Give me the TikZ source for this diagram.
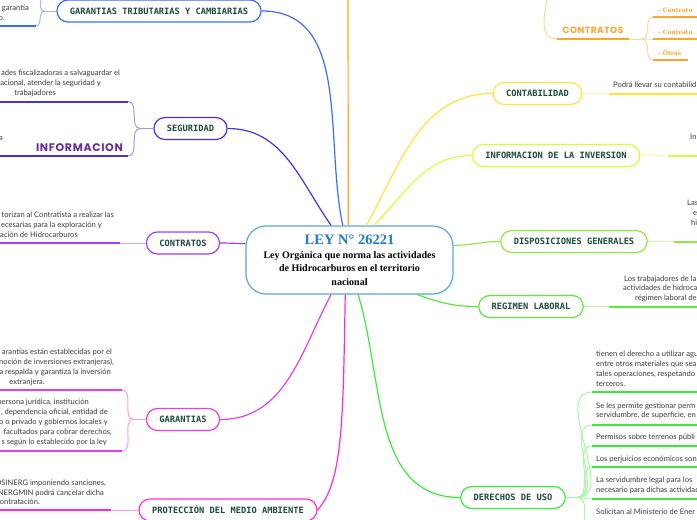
\documentclass[tikz,border=0pt]{standalone}
\usepackage{fontspec}
\usepackage{tikz}
\usetikzlibrary{positioning}
\newfontfamily\notefont{Lato}
\newfontfamily\monofont{DejaVu Sans Mono}
\newfontfamily\heavyfont[LetterSpace=6]{Poppins}
\newfontfamily\titlefont{Liberation Serif}
\newfontfamily\slabfont{DejaVu Serif}
\definecolor{leyBlue}{HTML}{5AA6DC}
\definecolor{titleBlue}{HTML}{1F7DC0}
\definecolor{topicText}{HTML}{1C4A3C}
\definecolor{noteGray}{HTML}{3A3A3A}
\definecolor{tribBlue}{HTML}{3D6BFF}
\definecolor{segViolet}{HTML}{4A2DEB}
\definecolor{contPurple}{HTML}{A23DFF}
\definecolor{garPink}{HTML}{E93DEC}
\definecolor{protPink}{HTML}{FF2ADB}
\definecolor{contaYellow}{HTML}{FFE43A}
\definecolor{invLime}{HTML}{D6FF3A}
\definecolor{dispGreen}{HTML}{8CEB3E}
\definecolor{regGreen}{HTML}{5AEB36}
\definecolor{derGreen}{HTML}{36EE36}
\definecolor{ordOrange}{HTML}{FFA52A}
\definecolor{infoPurple}{HTML}{6B2D93}

\begin{document}
\begin{tikzpicture}[x=1pt, y=1pt,
    topic/.style={draw=#1, line width=1.2pt, fill=white, rounded corners=11pt, minimum height=22pt,
        inner xsep=13pt, inner ysep=0pt, text=topicText, font=\monofont\bfseries\fontsize{8.7}{10}\selectfont},
    note/.style={inner sep=0pt, text=noteGray, font=\notefont\fontsize{7.6}{10}\selectfont},
    heavy/.style={inner sep=0pt, font=\heavyfont\bfseries\fontsize{#1}{12}\selectfont},
    stem/.style={line width=1.2pt},
    twig/.style={line width=1pt},
    bar/.style={line width=2pt}]
    \useasboundingbox (0,0) rectangle (697,-520);
    \clip (0,0) rectangle (697,-520);

    \node[draw=leyBlue, line width=1.2pt, fill=white, rounded corners=20pt, minimum width=207pt, minimum height=68pt,
        align=center, inner sep=0pt, font=\titlefont\bfseries\fontsize{10}{13.5}\selectfont] (ley) at (349.5,-260)
        {{\fontsize{14.5}{13.5}\selectfont\color{titleBlue}LEY N° 26221}\\[0.5pt]
         Ley Orgánica que norma las actividades\\ de Hidrocarburos en el territorio\\ nacional};

    \node[topic=tribBlue] (trib) at (159,-11) {GARANTIAS TRIBUTARIAS Y CAMBIARIAS};
    \node[topic=segViolet] (seg) at (190.5,-128.5) {SEGURIDAD};
    \node[topic=contPurple] (cont) at (183,-243) {CONTRATOS};
    \node[topic=garPink] (gar) at (183,-419.5) {GARANTIAS};
    \node[topic=protPink] (prot) at (228,-510) {PROTECCIÓN DEL MEDIO AMBIENTE};
    \node[topic=contaYellow] (conta) at (537.5,-93.5) {CONTABILIDAD};
    \node[topic=invLime] (inv) at (556,-155.5) {INFORMACION DE LA INVERSION};
    \node[topic=dispGreen] (disp) at (574,-241.5) {DISPOSICIONES GENERALES};
    \node[topic=regGreen] (reg) at (531,-306.5) {REGIMEN LABORAL};
    \node[topic=derGreen] (der) at (513,-497.5) {DERECHOS DE USO};
    \coordinate (ordTop) at (348,20);

    \draw[stem, tribBlue] (ley.101) to[out=102, in=0] (trib.east);
    \draw[stem, segViolet] (ley.118) to[out=125, in=0] (seg.east);
    \draw[stem, ordOrange] (ley.92) -- (ordTop);
    \draw[stem, contPurple] (ley.171) to[out=180, in=0] (cont.east);
    \draw[stem, garPink] (ley.-118) to[out=-118, in=0] (gar.east);
    \draw[stem, protPink] (ley.-97) .. controls (343,-420) and (343,-482) .. (prot.east);
    \draw[stem, contaYellow] (ley.64) to[out=61, in=180] (conta.west);
    \draw[stem, invLime] (ley.55) to[out=45, in=180] (inv.west);
    \draw[stem, dispGreen] (ley.8) to[out=0, in=180] (disp.west);
    \draw[stem, regGreen] (ley.-27) to[out=-20, in=180] (reg.west);
    \draw[stem, derGreen] (ley.-76) to[out=-73, in=180] (der.west);

    % garantias tributarias
    \coordinate (tribUp) at (38,15);
    \coordinate (tribA) at (36,-26);
    \draw[twig, tribBlue!50] (trib.west) -- ++(-12,0) coordinate (tribFork);
    \draw[twig, tribBlue!50] (tribFork) to[out=180, in=0] (tribUp);
    \draw[twig, tribBlue!50] (tribFork) to[out=180, in=0] (tribA);
    \draw[bar, tribBlue] (tribA) -- (-5,-26);
    \node[note, anchor=base east] (tribNote1) at (29,-10.5) {garantía};
    \node[note, anchor=base east] (tribNote2) at (5,-20.5) {o.};

    % seguridad
    \coordinate (segA) at (128,-101.5);
    \coordinate (segB) at (128,-156);
    \draw[twig, segViolet!50] (seg.west) -- ++(-13,0) coordinate (segFork);
    \draw[twig, segViolet!50] (segFork) to[out=180, in=0] (segA);
    \draw[twig, segViolet!50] (segFork) to[out=180, in=0] (segB);
    \draw[bar, segViolet] (segA) -- (-5,-101.5);
    \draw[bar, segViolet] (segB) -- (-5,-156);
    \foreach \t/\x/\y [count=\i] in {ades fiscalizadoras a salvaguardar el/120/75.5,
        {acional, atender la seguridad y}/101/85.5, trabajadores/56/95.5, a/3/140} {
        \node[note, anchor=base east] (segNote\i) at (\x,-\y) {\t};
    }
    \node[heavy=11, text=infoPurple, anchor=base east] (segInfo) at (123,-151) {INFORMACION};

    % contratos
    \coordinate (contA) at (120,-243);
    \draw[twig, contPurple!45] (cont.west) -- (contA);
    \draw[bar, contPurple] (contA) -- (-5,-243);
    \foreach \t/\x/\y [count=\i] in {torizan al  Contratista a realizar las/114/217.5,
        ecesarias para la exploración y/102/227.5, ación de Hidrocarburos/78/237.5} {
        \node[note, anchor=base east] (contNote\i) at (\x,-\y) {\t};
    }

    % garantias
    \coordinate (garA) at (122,-390);
    \coordinate (garB) at (122,-451);
    \draw[twig, garPink!50] (gar.west) -- ++(-12,0) coordinate (garFork);
    \draw[twig, garPink!50] (garFork) to[out=180, in=0] (garA);
    \draw[twig, garPink!50] (garFork) to[out=180, in=0] (garB);
    \draw[bar, garPink] (garA) -- (-5,-390);
    \draw[bar, garPink] (garB) -- (-5,-451);
    \foreach \t/\x/\y [count=\i] in {arantías están establecidas por el/112/354.5,
        {noción de inversiones extranjeras),}/114/364.5, a respalda y garantiza la inversión/111/374.5,
        extranjera./45/384.5, {persona jurídica, institución}/89/404.5,
        {, dependencia oficial, entidad de}/108/414.5, o o privado y gobiernos locales y/108/424.5,
        {facultados para cobrar derechos,}/112/434.5, s según lo establecido por la ley/107/444.5} {
        \node[note, anchor=base east] (garNote\i) at (\x,-\y) {\t};
    }

    % proteccion
    \coordinate (protA) at (111,-510);
    \draw[twig, protPink!45] (prot.west) -- (protA);
    \draw[bar, protPink] (protA) -- (-5,-510);
    \foreach \t/\x/\y [count=\i] in {{OSINERG imponiendo sanciones,}/106/485.5,
        NERGMIN podrá cancelar dicha/104/495.5, contratación./40/504.5} {
        \node[note, anchor=base east] (protNote\i) at (\x,-\y) {\t};
    }

    % contratos (arriba)
    \coordinate (ordUp) at (549,20);
    \coordinate (ordA) at (557,-39);
    \draw[twig, ordOrange!45] (ordUp) to[out=-90, in=180] (ordA);
    \draw[bar, ordOrange] (ordA) -- (629,-39) coordinate (ordB);
    \draw[twig, ordOrange!45] (ordB) -- (642,-39) coordinate (ordFork);
    \node[heavy=9, text=ordOrange, anchor=base] (ordTitle) at (593,-33) {CONTRATOS};
    \foreach \t/\y/\e [count=\i] in {- Contrato/17/702, - Contrato/39/702, - Otras/60/688} {
        \coordinate (ord\i) at (653,-\y);
        \draw[twig, ordOrange!45] (ordFork) to[out=0, in=180] (ord\i);
        \draw[bar, ordOrange] (ord\i) -- (\e,-\y);
        \node[inner sep=0pt, anchor=base west, text=ordOrange, font=\slabfont\bfseries\fontsize{6}{8}\selectfont]
            (ordNote\i) at (658,-\y+4.5) {\t};
    }

    % lado derecho
    \draw[twig, contaYellow!40] (conta.east) -- (609,-93.5) coordinate (contaA);
    \draw[bar, contaYellow] (contaA) -- (702,-93.5);
    \node[note, anchor=base west] (contaNote) at (613,-87.5) {Podrá llevar su contabilid};

    \draw[twig, invLime!40] (inv.east) -- (668,-155.5) coordinate (invA);
    \draw[bar, invLime] (invA) -- (702,-155.5);
    \node[note, anchor=base west] (invNote) at (690,-139.5) {In};

    \draw[twig, dispGreen!40] (disp.east) -- (674,-241.5) coordinate (dispA);
    \draw[bar, dispGreen] (dispA) -- (702,-241.5);
    \foreach \t/\x/\y [count=\i] in {Las/687/205.5, e/693/215.5, hi/691/225.5} {
        \node[note, anchor=base west] (dispNote\i) at (\x,-\y) {\t};
    }

    \draw[twig, regGreen!40] (reg.east) -- (609,-306.5) coordinate (regA);
    \draw[bar, regGreen] (regA) -- (702,-306.5);
    \foreach \t/\x/\y [count=\i] in {Los trabajadores de la/624/281, actividades de hidroca/623/290.5,
        régimen laboral de/635/300.5} {
        \node[note, anchor=base west] (regNote\i) at (\x,-\y) {\t};
    }

    % derechos de uso
    \draw[twig, derGreen!45] (der.east) -- ++(11,0) coordinate (derFork);
    \coordinate (derDown) at (592,-540);
    \draw[twig, derGreen!45] (derFork) to[out=0, in=180] (derDown);
    \foreach \y [count=\i] in {392,425,446,467,499} {
        \coordinate (der\i) at (592,-\y);
        \draw[twig, derGreen!45] (derFork) to[out=0, in=180] (der\i);
        \draw[bar, derGreen] (der\i) -- (702,-\y);
    }
    \foreach \t/\y [count=\i] in {tienen el derecho a utilizar agu/356.5, entre otros materiales que sea/366.5,
        {tales operaciones, respetando}/376.5, terceros./386.5, Se les permite gestionar perm/408.5,
        {servidumbre, de superficie, en}/417.5, Permisos sobre terrenos públi/439.5,
        Los perjuicios económicos son/461.5, La servidumbre legal para los/482.5,
        necesario para dichas actividad/492.5, Solicitan al Ministerio de Ener/514.5} {
        \node[note, anchor=base west] (derNote\i) at (596,-\y) {\t};
    }
\end{tikzpicture}
\end{document}
